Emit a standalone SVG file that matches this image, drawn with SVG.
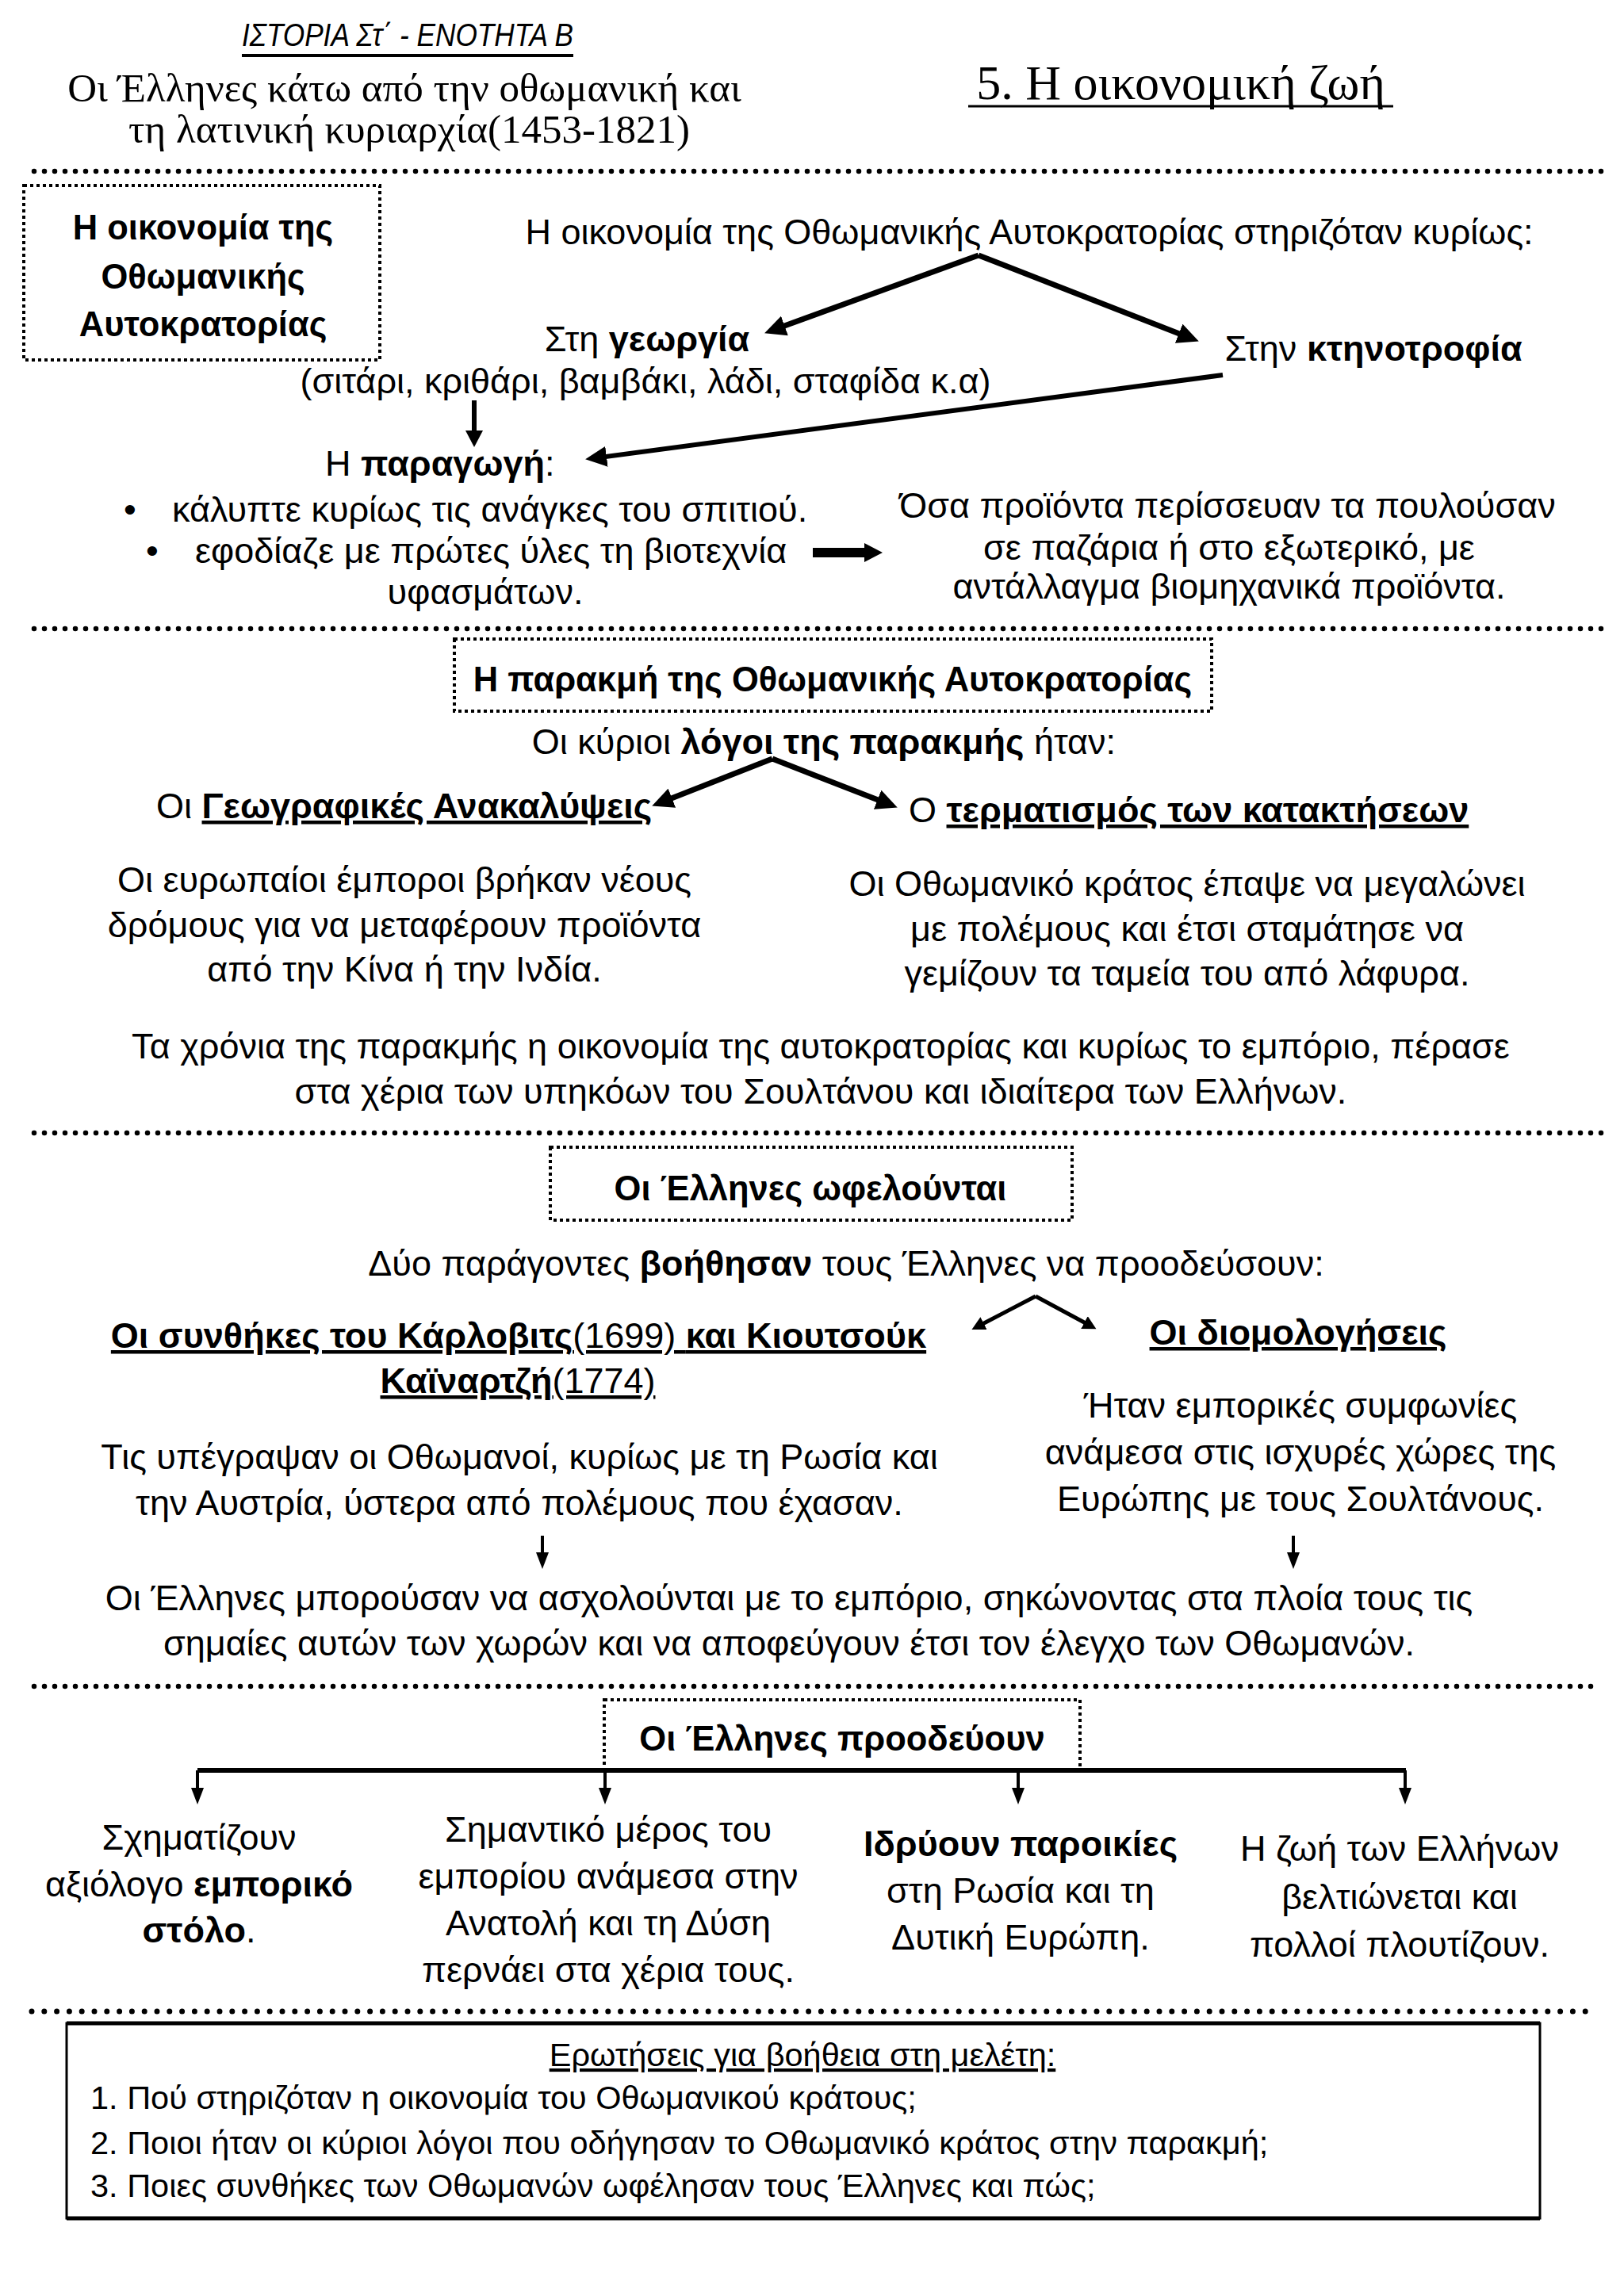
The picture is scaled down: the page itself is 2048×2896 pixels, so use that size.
<svg xmlns="http://www.w3.org/2000/svg" width="2048" height="2896" viewBox="0 0 2048 2896">
<style>
.t{font-family:"Liberation Sans",Arial,sans-serif;font-size:45px;fill:#000}
.c{text-anchor:middle}
.b{font-weight:bold}
.bt{font-family:"Liberation Sans",Arial,sans-serif;font-size:43.5px;font-weight:bold;fill:#000;text-anchor:middle}
.u{text-decoration:underline}
.q{font-family:"Liberation Sans",Arial,sans-serif;font-size:41.5px;fill:#000}
.serif{font-family:"Liberation Serif","Times New Roman",serif;font-size:51px;fill:#000;text-anchor:middle}
.hand{font-family:"Liberation Sans Narrow","Liberation Sans",sans-serif;font-style:italic;font-size:40px;fill:#000;text-anchor:middle}
.dots{stroke:#000;stroke-width:6.5;stroke-linecap:round;stroke-dasharray:0 13;fill:none}
.box{fill:none;stroke:#000;stroke-width:4;stroke-dasharray:4 4}
.arT{stroke:#000;stroke-width:7;fill:none;marker-end:url(#ahT)}
.arM{stroke:#000;stroke-width:5;fill:none;marker-end:url(#ahM)}
.arS{stroke:#000;stroke-width:5;fill:none;marker-end:url(#ahS)}
.arN{stroke:#000;stroke-width:4;fill:none;marker-end:url(#ahN)}
.ln{stroke:#000;fill:none}
</style>
<defs>
<marker id="ahT" markerUnits="userSpaceOnUse" markerWidth="28" markerHeight="26" refX="9" refY="13" orient="auto"><path d="M0,0 L27,13 L0,26 z" fill="#000"/></marker>
<marker id="ahM" markerUnits="userSpaceOnUse" markerWidth="18" markerHeight="18" refX="4" refY="9" orient="auto"><path d="M0,0 L17,9 L0,18 z" fill="#000"/></marker>
<marker id="ahS" markerUnits="userSpaceOnUse" markerWidth="22" markerHeight="22" refX="5" refY="11" orient="auto"><path d="M0,0 L21,11 L0,22 z" fill="#000"/></marker>
<marker id="ahN" markerUnits="userSpaceOnUse" markerWidth="22" markerHeight="16" refX="4" refY="8" orient="auto"><path d="M0,0 L21,8 L0,16 z" fill="#000"/></marker>
</defs>
<rect width="2048" height="2896" fill="#fff"/>

<g id="header">
<text class="hand" x="514" y="58" textLength="418" lengthAdjust="spacingAndGlyphs">ΙΣΤΟΡΙΑ Στ΄ - ΕΝΟΤΗΤΑ Β</text>
<line class="ln" x1="305" y1="70" x2="723" y2="70" stroke-width="4"/>
<text class="serif" x="510" y="128">Οι Έλληνες κάτω από την οθωμανική και</text>
<text class="serif" x="516" y="180">τη λατινική κυριαρχία(1453-1821)</text>
<text class="serif" x="1489" y="125" style="font-size:62px">5. Η οικονομική ζωή</text>
<line class="ln" x1="1221" y1="134" x2="1757" y2="134" stroke-width="3"/>
</g>

<g id="separators">
<line class="dots" x1="43" y1="216" x2="2020" y2="216"/>
<line class="dots" x1="43" y1="793" x2="2020" y2="793"/>
<line class="dots" x1="43" y1="1429" x2="2020" y2="1429"/>
<line class="dots" x1="43" y1="2127" x2="2008" y2="2127"/>
<line class="dots" x1="40" y1="2537" x2="2000" y2="2537" style="stroke-width:7;stroke-dasharray:0 15.8"/>
</g>

<g id="box-economy">
<rect class="box" x="30" y="234" width="449" height="220"/>
<text class="bt" x="256" y="302">Η οικονομία της</text>
<text class="bt" x="256" y="364">Οθωμανικής</text>
<text class="bt" x="256" y="424">Αυτοκρατορίας</text>
</g>

<g id="economy-base">
<text class="t c" x="1298" y="308">Η οικονομία της Οθωμανικής Αυτοκρατορίας στηριζόταν κυρίως:</text>
</g>

<g id="agriculture">
<text class="t c" x="816" y="443">Στη <tspan class="b">γεωργία</tspan></text>
<text class="t c" x="814" y="496">(σιτάρι, κριθάρι, βαμβάκι, λάδι, σταφίδα κ.α)</text>
</g>

<g id="livestock">
<text class="t c" x="1732" y="455">Στην <tspan class="b">κτηνοτροφία</tspan></text>
</g>

<g id="production">
<text class="t" x="410" y="600">Η <tspan class="b">παραγωγή</tspan>:</text>
<text class="t c" x="164" y="658">•</text>
<text class="t" x="217" y="658">κάλυπτε κυρίως τις ανάγκες του σπιτιού.</text>
<text class="t c" x="192" y="710">•</text>
<text class="t" x="246" y="710">εφοδίαζε με πρώτες ύλες τη βιοτεχνία</text>
<text class="t c" x="612" y="762">υφασμάτων.</text>
</g>

<g id="surplus">
<text class="t c" x="1548" y="653">Όσα προϊόντα περίσσευαν τα πουλούσαν</text>
<text class="t c" x="1550" y="706">σε παζάρια ή στο εξωτερικό, με</text>
<text class="t c" x="1550" y="755">αντάλλαγμα βιομηχανικά προϊόντα.</text>
</g>

<g id="box-decline">
<rect class="box" x="573" y="806" width="955" height="91"/>
<text class="bt" x="1050" y="872">Η παρακμή της Οθωμανικής Αυτοκρατορίας</text>
</g>

<g id="decline-reasons">
<text class="t c" x="1039" y="951">Οι κύριοι <tspan class="b">λόγοι της παρακμής</tspan> ήταν:</text>
</g>

<g id="discoveries">
<text class="t" x="197" y="1032">Οι <tspan class="b u">Γεωγραφικές Ανακαλύψεις</tspan></text>
<text class="t c" x="510" y="1125">Οι ευρωπαίοι έμποροι βρήκαν νέους</text>
<text class="t c" x="510" y="1182">δρόμους για να μεταφέρουν προϊόντα</text>
<text class="t c" x="510" y="1238">από την Κίνα ή την Ινδία.</text>
</g>

<g id="conquests">
<text class="t" x="1146" y="1037">Ο <tspan class="b u">τερματισμός των κατακτήσεων</tspan></text>
<text class="t c" x="1497" y="1130">Οι Οθωμανικό κράτος έπαψε να μεγαλώνει</text>
<text class="t c" x="1497" y="1187">με πολέμους και έτσι σταμάτησε να</text>
<text class="t c" x="1497" y="1243">γεμίζουν τα ταμεία του από λάφυρα.</text>
</g>

<g id="decline-result">
<text class="t c" x="1035" y="1335">Τα χρόνια της παρακμής η οικονομία της αυτοκρατορίας και κυρίως το εμπόριο, πέρασε</text>
<text class="t c" x="1035" y="1392">στα χέρια των υπηκόων του Σουλτάνου και ιδιαίτερα των Ελλήνων.</text>
</g>

<g id="box-benefit">
<rect class="box" x="694" y="1447" width="658" height="92"/>
<text class="bt" x="1022" y="1514">Οι Έλληνες ωφελούνται</text>
</g>

<g id="two-factors">
<text class="t c" x="1067" y="1609">Δύο παράγοντες <tspan class="b">βοήθησαν</tspan> τους Έλληνες να προοδεύσουν:</text>
</g>

<g id="treaties">
<text class="t c u" x="654" y="1700"><tspan class="b">Οι συνθήκες του Κάρλοβιτς</tspan>(1699) <tspan class="b">και Κιουτσούκ</tspan></text>
<text class="t c u" x="653" y="1757"><tspan class="b">Καϊναρτζή</tspan>(1774)</text>
<text class="t c" x="655" y="1853">Τις υπέγραψαν οι Οθωμανοί, κυρίως με τη Ρωσία και</text>
<text class="t c" x="655" y="1911">την Αυστρία, ύστερα από πολέμους που έχασαν.</text>
</g>

<g id="capitulations">
<text class="t c b u" x="1637" y="1696">Οι διομολογήσεις</text>
<text class="t c" x="1640" y="1788">Ήταν εμπορικές συμφωνίες</text>
<text class="t c" x="1640" y="1847">ανάμεσα στις ισχυρές χώρες της</text>
<text class="t c" x="1640" y="1906">Ευρώπης με τους Σουλτάνους.</text>
</g>

<g id="trade-result">
<text class="t c" x="995" y="2031">Οι Έλληνες μπορούσαν να ασχολούνται με το εμπόριο, σηκώνοντας στα πλοία τους τις</text>
<text class="t c" x="995" y="2088">σημαίες αυτών των χωρών και να αποφεύγουν έτσι τον έλεγχο των Οθωμανών.</text>
</g>

<g id="box-progress">
<rect class="box" x="762" y="2144" width="600" height="89"/>
<text class="bt" x="1062" y="2208">Οι Έλληνες προοδεύουν</text>
</g>

<g id="fleet">
<text class="t c" x="251" y="2333">Σχηματίζουν</text>
<text class="t c" x="251" y="2392">αξιόλογο <tspan class="b">εμπορικό</tspan></text>
<text class="t c" x="251" y="2450"><tspan class="b">στόλο</tspan>.</text>
</g>

<g id="trade-share">
<text class="t c" x="767" y="2323">Σημαντικό μέρος του</text>
<text class="t c" x="767" y="2382">εμπορίου ανάμεσα στην</text>
<text class="t c" x="767" y="2441">Ανατολή και τη Δύση</text>
<text class="t c" x="767" y="2500">περνάει στα χέρια τους.</text>
</g>

<g id="communities">
<text class="t c b" x="1287" y="2341">Ιδρύουν παροικίες</text>
<text class="t c" x="1287" y="2400">στη Ρωσία και τη</text>
<text class="t c" x="1287" y="2459">Δυτική Ευρώπη.</text>
</g>

<g id="wealth">
<text class="t c" x="1765" y="2347">Η ζωή των Ελλήνων</text>
<text class="t c" x="1765" y="2408">βελτιώνεται και</text>
<text class="t c" x="1765" y="2468">πολλοί πλουτίζουν.</text>
</g>

<g id="questions">
<rect x="84" y="2552" width="1858" height="246" fill="none" stroke="#000" stroke-width="3"/>
<line class="ln" x1="84" y1="2552" x2="1942" y2="2552" stroke-width="5"/>
<line class="ln" x1="84" y1="2798" x2="1942" y2="2798" stroke-width="5"/>
<text class="q c u" x="1012" y="2606">Ερωτήσεις για βοήθεια στη μελέτη:</text>
<text class="q" x="114" y="2660">1. Πού στηριζόταν η οικονομία του Οθωμανικού κράτους;</text>
<text class="q" x="114" y="2717">2. Ποιοι ήταν οι κύριοι λόγοι που οδήγησαν το Οθωμανικό κράτος στην παρακμή;</text>
<text class="q" x="114" y="2771">3.  Ποιες συνθήκες των Οθωμανών ωφέλησαν τους Έλληνες και πώς;</text>
</g>

<g id="connectors">
<line class="arT" x1="1234" y1="322" x2="981" y2="414"/>
<line class="arT" x1="1234" y1="322" x2="1495" y2="424"/>
<line class="arT" x1="1542" y1="473" x2="756" y2="577" style="stroke-width:6"/>
<line class="arS" x1="598" y1="505" x2="598" y2="548" style="stroke-width:6"/>
<polygon points="1025,691 1090,691 1090,685 1113,697 1090,709 1090,703 1025,703" fill="#000"/>
<line class="arT" x1="974" y1="957" x2="839" y2="1010"/>
<line class="arT" x1="974" y1="957" x2="1115" y2="1012"/>
<line class="arM" x1="1306" y1="1635" x2="1237" y2="1671"/>
<line class="arM" x1="1306" y1="1635" x2="1371" y2="1670"/>
<line class="arN" x1="684" y1="1937" x2="684" y2="1962"/>
<line class="arN" x1="1631" y1="1937" x2="1631" y2="1962"/>
<line class="ln" x1="249" y1="2233" x2="1773" y2="2233" stroke-width="6"/>
<line class="arN" x1="249" y1="2233" x2="249" y2="2259"/>
<line class="arN" x1="763" y1="2233" x2="763" y2="2259"/>
<line class="arN" x1="1284" y1="2233" x2="1284" y2="2259"/>
<line class="arN" x1="1772" y1="2233" x2="1772" y2="2259"/>
</g>
</svg>
